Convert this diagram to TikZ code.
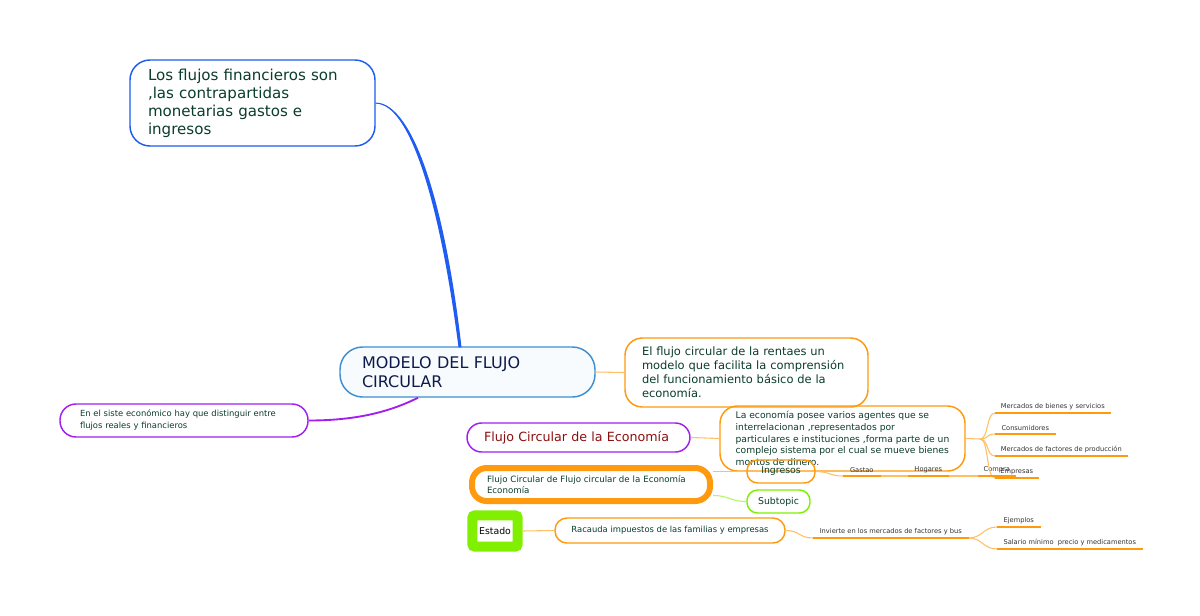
\documentclass[tikz,border=0pt]{standalone}
\usepackage{fontspec}
\setmainfont{DejaVu Sans}
\usetikzlibrary{positioning,calc}
\definecolor{Txt}{HTML}{0B3D2B}
\definecolor{Navy}{HTML}{0D1B4C}
\definecolor{MapBlue}{HTML}{1E5CF2}
\definecolor{Sky}{HTML}{3D8FD1}
\definecolor{MainFill}{HTML}{F8FBFE}
\definecolor{MapOrange}{HTML}{FF9A0F}
\definecolor{LOrange}{HTML}{FFC064}
\definecolor{MapPurple}{HTML}{A31FF0}
\definecolor{Lime}{HTML}{80F000}
\definecolor{Wine}{HTML}{8C0F0F}
\definecolor{LeafTxt}{HTML}{333333}

\begin{document}
\begin{tikzpicture}[
      x=0.75pt, y=-0.75pt,
      topic/.style={draw, fill=white, rounded corners=13pt, line width=1.1pt, align=left, text=Txt, inner xsep=12.75pt, inner ysep=0pt},
      small/.style={draw, rounded corners=8pt, line width=1.1pt, align=center, text=Txt, inner sep=0pt, minimum height=17.25pt, font=\fontsize{7}{8}\selectfont},
      leaf/.style={anchor=south west, inner xsep=0pt, inner ysep=2.5pt, text=LeafTxt, font=\fontsize{5}{6}\selectfont},
      uline/.style={draw=MapOrange, line width=1.5pt},
      link/.style={draw=LOrange, line width=0.8pt}
    ]
    \useasboundingbox[fill=white] (0,0) rectangle (1200,615);

    % topics
    \node[topic, draw=MapBlue, rounded corners=15pt, text width=156.75pt, inner xsep=13.5pt, minimum height=64.5pt, font=\fontsize{11.3}{13.5}\selectfont] (fin) at (252.5,103) {Los flujos financieros son\\,las contrapartidas\\monetarias gastos e\\ingresos};
    \node[topic, draw=Sky, fill=MainFill, rounded corners=17pt, text=Navy, text width=158.25pt, inner xsep=16.5pt, minimum height=37.5pt, font=\fontsize{12}{14.25}\selectfont] (main) at (467.5,372) {MODELO DEL FLUJO\\CIRCULAR};
    \node[topic, draw=MapOrange, text width=156.75pt, minimum height=51.75pt, font=\fontsize{8.6}{10.5}\selectfont] (def) at (746.5,372.5) {El flujo circular de la rentaes un\\modelo que facilita la comprensión\\del funcionamiento básico de la\\economía.};
    \node[topic, draw=MapPurple, rounded corners=12pt, text width=156pt, inner xsep=15pt, minimum height=24.75pt, font=\fontsize{6.3}{9}\selectfont] (dist) at (184,420.5) {En el siste económico hay que distinguir entre\\flujos reales y financieros};
    \node[topic, draw=MapPurple, rounded corners=11pt, text=Wine, text width=141.75pt, minimum height=21.75pt, font=\fontsize{9.5}{11}\selectfont] (fce) at (578.5,437.5) {Flujo Circular de la Economía};
    \node[topic, draw=MapOrange, fill=none, inner xsep=0pt, minimum width=183.75pt, minimum height=48.75pt, font=\fontsize{6.9}{8.7}\selectfont] (agents) at (842.5,438.5) {La economía posee varios agentes que se\\interrelacionan ,representados por\\particulares e instituciones ,forma parte de un\\complejo sistema por el cual se mueve bienes\\montos de dinero.};
    \node[topic, draw=MapOrange, line width=4.5pt, rounded corners=11pt, text width=156pt, inner xsep=11.25pt, minimum height=24.75pt, font=\fontsize{6.5}{8.25}\selectfont] (thick) at (591,484.5) {Flujo Circular de Flujo circular de la Economía\\Economía};
    \node[small, draw=MapOrange, minimum width=51pt] (ingresos) at (781,471.5) {Ingresos};
    \node[small, draw=Lime, fill=white, minimum width=47.25pt] (subtopic) at (778.5,501.5) {Subtopic};
    \node[draw=Lime, fill=white, line width=7.5pt, rounded corners=2pt, minimum width=34pt, minimum height=23.5pt, inner sep=0pt, text=black, font=\fontsize{7}{8}\selectfont] (estado) at (495,531) {Estado};
    \node[topic, draw=MapOrange, rounded corners=9pt, inner xsep=0pt, minimum width=172.5pt, minimum height=18.75pt, font=\fontsize{6.3}{8}\selectfont] (racauda) at (670,530.5) {Racauda impuestos de las familias y empresas};

    % leaves
    \node[leaf, minimum width=86.25pt] (mbs) at (995,413) {Mercados de bienes y servicios};
    \node[leaf, minimum width=45pt] (cons) at (995,434) {Consumidores};
    \node[leaf, minimum width=99pt] (mfp) at (995,456) {Mercados de factores de producción};
    \node[leaf, minimum width=32.25pt] (emp) at (995,478) {Empresas};
    \node[leaf, minimum width=27.75pt] (gastao) at (843,476) {Gastao};
    \node[leaf, minimum width=30pt] (hogares) at (908,476) {Hogares};
    \node[leaf, minimum width=27.75pt] (compra) at (978,476) {Compra};
    \node[leaf, minimum width=116.25pt] (invierte) at (813,538) {Invierte en los mercados de factores y bus};
    \node[leaf, minimum width=32.25pt] (ejemplos) at (997,527) {Ejemplos};
    \node[leaf, minimum width=108.75pt] (salario) at (997,549) {Salario mínimo\ \ precio y medicamentos};
    \coordinate (ab) at (980,439);

    % connectors
    \fill[MapBlue] (fin.east) .. controls +(38,0) and +(-16,-140) .. ($(main.north)+(-6,1)$)
      -- ($(main.north)+(-9,1)$) .. controls +(-18,-140) and +(35,0) .. ($(fin.east)+(0,0.6)$) -- cycle;
    \draw[MapBlue, line width=0.6pt] (fin.east) .. controls +(36.5,0) and +(-17,-140) .. ($(main.north)+(-7.5,1)$);
    \draw[MapPurple, line width=1.4pt] ($(main.south)+(-49.5,0)$) .. controls +(-30,15) and +(45,0) .. (dist.east);
    \draw[link] (main.east) -- (def.west);
    \draw[link] (fce.east) -- (agents.west);
    \draw[link] (agents.east) -- (ab);
    \draw[link] (ab) .. controls +(9,0) and +(-9,0) .. (mbs.south west);
    \draw[link] (ab) .. controls +(9,0) and +(-9,0) .. (cons.south west);
    \draw[link] (ab) .. controls +(9,0) and +(-9,0) .. (mfp.south west);
    \draw[link] (ab) .. controls +(9,0) and +(-9,0) .. (emp.south west);
    \draw[link] ($(thick.east)+(0,-13)$) -- (ingresos.west);
    \draw[link] (ingresos.east) .. controls +(14,0) and +(-14,0) .. (gastao.south west);
    \draw[link] (gastao.south east) -- (hogares.south west);
    \draw[link] (hogares.south east) -- (compra.south west);
    \draw[draw=Lime!60, line width=0.8pt] ($(thick.east)+(0,11)$) .. controls +(16,0) and +(-16,0) .. (subtopic.west);
    \draw[link] (estado.east) -- (racauda.west);
    \draw[link] (racauda.east) .. controls +(14,0) and +(-14,0) .. (invierte.south west);
    \draw[link] (invierte.south east) .. controls +(14,0) and +(-14,0) .. (ejemplos.south west);
    \draw[link] (invierte.south east) .. controls +(14,0) and +(-14,0) .. (salario.south west);

    % underlines
    \draw[uline] (mbs.south west) -- (mbs.south east);
    \draw[uline] (cons.south west) -- (cons.south east);
    \draw[uline] (mfp.south west) -- (mfp.south east);
    \draw[uline] (emp.south west) -- (emp.south east);
    \draw[uline] (gastao.south west) -- (gastao.south east);
    \draw[uline] (hogares.south west) -- (hogares.south east);
    \draw[uline] (compra.south west) -- (compra.south east);
    \draw[uline] (invierte.south west) -- (invierte.south east);
    \draw[uline] (ejemplos.south west) -- (ejemplos.south east);
    \draw[uline] (salario.south west) -- (salario.south east);
  \end{tikzpicture}
\end{document}
